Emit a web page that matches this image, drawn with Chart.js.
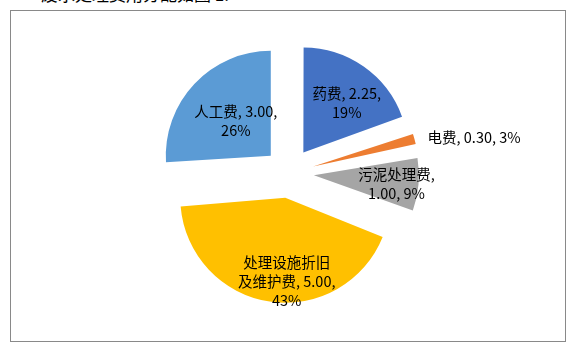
<!DOCTYPE html>
<html>
<head>
<meta charset="utf-8">
<script src="https://cdn.jsdelivr.net/npm/chart.js@4"></script>
<style>
  html, body { margin: 0; padding: 0; background: #fff; overflow: hidden; }
  body { width: 575px; height: 349px; position: relative; }
  #caption {
    position: absolute; left: 41px; top: -19px;
    font: 17px "Noto Sans CJK SC", sans-serif; color: #000; white-space: nowrap;
  }
  #frame {
    position: absolute; left: 10px; top: 10px; width: 556px; height: 332px;
    border: 1px solid #898989; box-sizing: border-box;
  }
  #chart { position: absolute; left: 0; top: 0; }
</style>
</head>
<body>
<div id="caption">废水处理费用分配如图 1.</div>
<div id="frame"></div>
<canvas id="chart" width="575" height="349"></canvas>
<script>
  // data
  const categories = ["药费", "电费", "污泥处理费", "处理设施折旧\n及维护费", "人工费"];
  const costs = [2.25, 0.30, 1.00, 5.00, 3.00];
  const sliceColors = ["#4472C4", "#ED7D31", "#A5A5A5", "#FFC000", "#5B9BD5"];

  // label layout: newline after [name, value], radial factor, dx, dy, align
  const labelLayout = [
    { br: [false, true], f: 0.62, dx: 6, dy: 4, align: "center" },
    { br: [false, false], f: 1.06, dx: 7, dy: 0, align: "left" },
    { br: [true, false], f: 0.79, dx: 0, dy: 1, align: "center" },
    { br: [false, true], f: 0.8, dx: 14, dy: 1, align: "center" },
    { br: [false, true], f: 0.47, dx: 1, dy: -1, align: "center" },
  ];

  const OFFSET = 100; // chart.js draws offset / 4 => 25px
  const RADIUS = 105;
  const total = costs.reduce((a, b) => a + b, 0);

  function labelLines(i) {
    const pct = Math.round((costs[i] / total) * 100) + "%";
    const br = labelLayout[i].br;
    const s = categories[i] + (br[0] ? ",\n" : ", ") + costs[i].toFixed(2) + (br[1] ? ",\n" : ", ") + pct;
    return s.split("\n");
  }

  // keep the exploded slices at the same radius (v4 grows small/large arcs with offset)
  const radiusFix = {
    id: "radiusFix",
    beforeDatasetsDraw(chart) {
      const meta = chart.getDatasetMeta(0);
      meta.data.forEach((arc) => {
        const circ = arc.endAngle - arc.startAngle;
        const fix = 1 - Math.sin(Math.min(Math.PI, circ));
        arc.outerRadius = RADIUS - (OFFSET / 4) * fix;
      });
    },
  };

  const sliceLabels = {
    id: "sliceLabels",
    afterDatasetsDraw(chart) {
      const ctx = chart.ctx;
      const meta = chart.getDatasetMeta(0);
      ctx.save();
      ctx.font = '14.5px "Noto Sans CJK SC", sans-serif';
      ctx.fillStyle = "#000";
      ctx.textBaseline = "middle";
      meta.data.forEach((arc, i) => {
        const lay = labelLayout[i];
        const mid = (arc.startAngle + arc.endAngle) / 2;
        const ax = arc.x + Math.cos(mid) * OFFSET / 4;
        const ay = arc.y + Math.sin(mid) * OFFSET / 4;
        const px = ax + Math.cos(mid) * RADIUS * lay.f + lay.dx;
        const py = ay + Math.sin(mid) * RADIUS * lay.f + lay.dy;
        const lines = labelLines(i);
        const lh = 19;
        ctx.textAlign = lay.align;
        lines.forEach((t, k) => {
          ctx.fillText(t, px, py + (k - (lines.length - 1) / 2) * lh);
        });
      });
      ctx.restore();
    },
  };

  new Chart(document.getElementById("chart"), {
    type: "pie",
    data: {
      labels: categories,
      datasets: [
        {
          data: costs,
          backgroundColor: sliceColors,
          borderWidth: 0,
          offset: OFFSET,
          hoverOffset: 0,
        },
      ],
    },
    options: {
      responsive: false,
      animation: false,
      radius: RADIUS,
      layout: { padding: { top: 55, bottom: 58, left: 100, right: 97 } },
      plugins: {
        legend: { display: false },
        tooltip: { enabled: false },
      },
      events: [],
    },
    plugins: [radiusFix, sliceLabels],
  });
</script>
</body>
</html>
